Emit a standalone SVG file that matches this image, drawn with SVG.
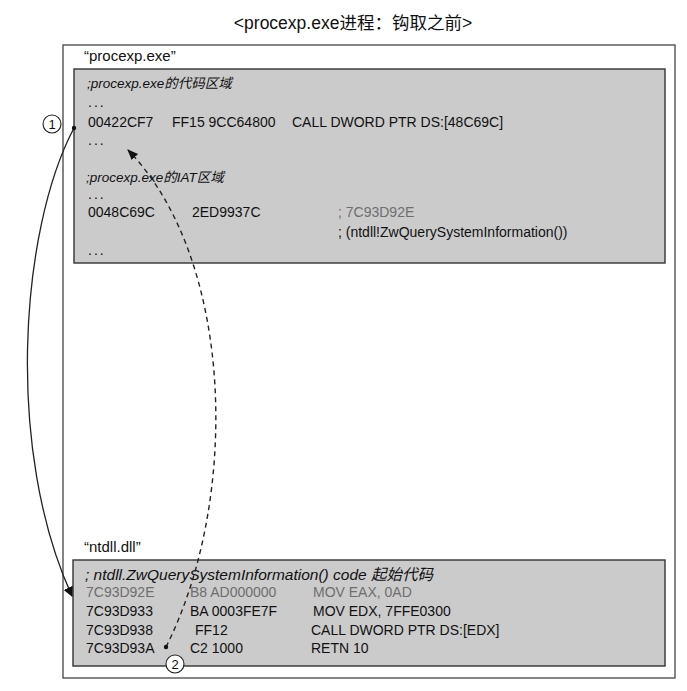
<svg xmlns="http://www.w3.org/2000/svg" width="687" height="691" viewBox="0 0 687 691">
<style>
text{font-family:"Liberation Sans","Noto Sans CJK SC",sans-serif;font-size:14px;fill:#111}
.title{font-size:17.5px}
.lbl{font-size:15px}
.it{font-style:italic;font-size:13.5px}
.hd{font-style:italic;font-size:15.5px}
.dim{fill:#6e6e6e}
.dots{letter-spacing:2px}
.box{fill:#fff;stroke:#444;stroke-width:1.3}
.gray{fill:#cbcbcb;stroke:#333;stroke-width:1.4}
.num{fill:#fff;stroke:#222;stroke-width:1.1}
.numt{font-size:13px;text-anchor:middle}
.solid{fill:none;stroke:#222;stroke-width:1.3}
.dash{fill:none;stroke:#222;stroke-width:1.4;stroke-dasharray:5 4}
</style>
<defs>
<marker id="ah" viewBox="0 0 10 10" refX="9" refY="5" markerWidth="10" markerHeight="10" orient="auto" markerUnits="userSpaceOnUse"><path d="M0,0 L10,5 L0,10 Z" fill="#111"/></marker>
<marker id="ah2" viewBox="0 0 10 10" refX="9" refY="5" markerWidth="11" markerHeight="11" orient="auto" markerUnits="userSpaceOnUse"><path d="M0,1 L10,5 L0,9 Z" fill="#111"/></marker>
</defs>
<rect width="687" height="691" fill="#fff"/>
<g id="title"><text class="title" x="353" y="29" text-anchor="middle">&lt;procexp.exe进程：钩取之前&gt;</text></g>
<g id="process-box">
<rect class="box" x="63" y="45" width="612" height="633"/>
<text class="lbl" x="84" y="61">“procexp.exe”</text>
<text class="lbl" x="84" y="552">“ntdll.dll”</text>
</g>
<g id="procexp-code">
<rect class="gray" x="74" y="69" width="591" height="194"/>
<text class="it" x="87" y="88">;procexp.exe的代码区域</text>
<text class="dots" x="88" y="107">...</text>
<text x="88" y="127">00422CF7</text>
<text x="172" y="127">FF15 9CC64800</text>
<text x="292" y="127">CALL DWORD PTR DS:[48C69C]</text>
<text class="dots" x="88" y="145">...</text>
<text class="it" x="86" y="182">;procexp.exe的IAT区域</text>
<text class="dots" x="88" y="199">...</text>
<text x="88" y="217">0048C69C</text>
<text x="192" y="217">2ED9937C</text>
<text class="dim" x="338" y="217">; 7C93D92E</text>
<text x="338" y="237">; (ntdll!ZwQuerySystemInformation())</text>
<text class="dots" x="88" y="255">...</text>
</g>
<g id="ntdll-code">
<rect class="gray" x="73" y="560" width="592" height="106"/>
<text class="hd" x="85" y="580">; ntdll.ZwQuerySystemInformation() code 起始代码</text>
<text class="dim" x="86" y="597">7C93D92E</text>
<text class="dim" x="190" y="597">B8 AD000000</text>
<text class="dim" x="313" y="597">MOV EAX, 0AD</text>
<text x="86" y="616">7C93D933</text>
<text x="190" y="616">BA 0003FE7F</text>
<text x="313" y="616">MOV EDX, 7FFE0300</text>
<text x="86" y="635">7C93D938</text>
<text x="195" y="635">FF12</text>
<text x="311" y="635">CALL DWORD PTR DS:[EDX]</text>
<text x="86" y="653">7C93D93A</text>
<text x="190" y="653">C2 1000</text>
<text x="311" y="653">RETN 10</text>
</g>
<g id="connectors">
<path class="solid" d="M74,128 C20,230 5,450 72,596" marker-end="url(#ah)"/>
<circle cx="74" cy="128" r="2.2" fill="#111"/>
<path class="dash" d="M166,647 C240,500 235,260 128,150" marker-end="url(#ah2)"/>
<circle cx="166" cy="647" r="2.2" fill="#111"/>
</g>
<g id="marker-1">
<circle class="num" cx="52" cy="124" r="9"/>
<text class="numt" x="52" y="128.5">1</text>
</g>
<g id="marker-2">
<circle class="num" cx="175" cy="664" r="9"/>
<text class="numt" x="175" y="668.5">2</text>
</g>
</svg>
